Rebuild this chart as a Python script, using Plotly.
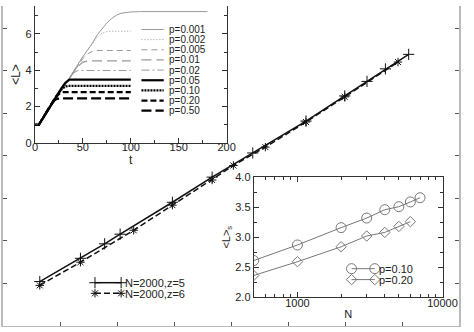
import plotly.graph_objects as go

# ---- main panel: <L> against system parameter (two lattice settings) ----
main_x_z5 = [0.645, 1.359, 1.783, 2.055, 2.972, 3.669, 4.382, 5.316, 5.996, 6.386, 6.709, 7.117]
main_y_z5 = [1.045, 1.591, 1.932, 2.159, 2.909, 3.500, 4.068, 4.818, 5.409, 5.750, 6.045, 6.386]
main_x_z6 = [0.645, 1.359, 2.293, 2.972, 3.669, 4.042, 4.603, 5.316, 5.996, 6.930]
main_y_z6 = [0.955, 1.500, 2.250, 2.841, 3.432, 3.773, 4.205, 4.795, 5.386, 6.205]
main_names = ["N=2000,z=5", "N=2000,z=6"]

# ---- top-left inset: <L>(t) for several p ----
t_p0001 = [0, 4, 8, 12, 16, 20, 30, 40, 50, 60, 65, 70, 75, 80, 85, 90, 100, 110, 180]
L_p0001 = [1, 1, 1.3, 1.62, 1.95, 2.28, 3.1, 3.92, 4.75, 5.5, 5.95, 6.3, 6.6, 6.85, 7.03, 7.14, 7.21, 7.23, 7.23]
t_p0002 = [0, 4, 8, 12, 16, 20, 30, 40, 50, 60, 65, 70, 75, 80, 100]
L_p0002 = [1, 1, 1.3, 1.62, 1.95, 2.28, 3.1, 3.92, 4.75, 5.45, 5.82, 6.05, 6.13, 6.15, 6.15]
t_p0005 = [0, 4, 8, 12, 16, 20, 30, 40, 50, 55, 60, 64, 100]
L_p0005 = [1, 1, 1.3, 1.62, 1.95, 2.28, 3.1, 3.92, 4.65, 4.9, 5.05, 5.09, 5.09]
t_p001 = [0, 4, 8, 12, 16, 20, 30, 40, 45, 50, 55, 100]
L_p001 = [1, 1, 1.3, 1.62, 1.95, 2.28, 3.1, 3.88, 4.22, 4.45, 4.52, 4.52]
t_p002 = [0, 4, 8, 12, 16, 20, 30, 35, 40, 45, 100]
L_p002 = [1, 1, 1.3, 1.63, 1.97, 2.3, 3.12, 3.5, 3.85, 3.99, 3.99]
t_p005 = [0, 4, 8, 12, 16, 20, 25, 28, 32, 36, 100]
L_p005 = [1, 1, 1.33, 1.68, 2.02, 2.38, 2.8, 3.05, 3.32, 3.49, 3.49]
t_p010 = [0, 4, 8, 12, 16, 20, 24, 28, 32, 35, 100]
L_p010 = [1, 1, 1.34, 1.7, 2.04, 2.4, 2.72, 2.97, 3.11, 3.14, 3.14]
t_p020 = [0, 4, 8, 12, 16, 20, 24, 27, 30, 100]
L_p020 = [1, 1, 1.35, 1.71, 2.06, 2.4, 2.65, 2.77, 2.8, 2.8]
t_p050 = [0, 4, 8, 12, 16, 20, 23, 26, 100]
L_p050 = [1, 1, 1.36, 1.72, 2.05, 2.33, 2.43, 2.45, 2.45]
p_labels = ["p=0.001", "p=0.002", "p=0.005", "p=0.01", "p=0.02",
            "p=0.05", "p=0.10", "p=0.20", "p=0.50"]

# ---- bottom-right inset: saturation length <L>_s against N ----
N_p010 = [500, 1000, 2000, 3000, 4000, 5000, 6000, 7000]
Ls_p010 = [2.61, 2.87, 3.16, 3.32, 3.46, 3.51, 3.59, 3.66]
N_p020 = [500, 1000, 2000, 3000, 4000, 5000, 6000]
Ls_p020 = [2.36, 2.59, 2.84, 3.02, 3.08, 3.18, 3.26]
ls_names = ["p=0.10", "p=0.20"]

FONT = "Liberation Sans, Arial, sans-serif"
W, H = 474, 332
ML, MR, MT, MB = 2, 1, 0, 1
PW, PH = W - ML - MR, H - MT - MB


def px_x(px):
    return (px - ML) / PW


def px_y(py):
    return (H - MB - py) / PH


fig = go.Figure()

MARK_Z5 = dict(symbol="cross-thin-open", size=8, line=dict(color="#444", width=1))
MARK_Z6 = dict(symbol="asterisk-open", size=7, line=dict(color="#777", width=1))
LINE_Z5 = dict(color="#111", width=1.5)
LINE_Z6 = dict(color="#111", width=1.5, dash="6px,3px")

# main panel curves
fig.add_trace(go.Scatter(x=main_x_z5, y=main_y_z5, mode="lines+markers",
                         line=LINE_Z5, marker=MARK_Z5,
                         xaxis="x", yaxis="y", showlegend=False))
fig.add_trace(go.Scatter(x=main_x_z6, y=main_y_z6, mode="lines+markers",
                         line=LINE_Z6, marker=MARK_Z6,
                         xaxis="x", yaxis="y", showlegend=False))

# inset curves with their styles
inset_series = [
    (t_p0001, L_p0001, dict(color="#9a9a9a", width=1)),
    (t_p0002, L_p0002, dict(color="#9a9a9a", width=1, dash="1px,2px")),
    (t_p0005, L_p0005, dict(color="#9a9a9a", width=1, dash="6px,4px")),
    (t_p001, L_p001, dict(color="#9a9a9a", width=1.3, dash="10px,5px")),
    (t_p002, L_p002, dict(color="#9a9a9a", width=1, dash="8px,3px,2px,3px")),
    (t_p005, L_p005, dict(color="#000", width=2.2)),
    (t_p010, L_p010, dict(color="#000", width=2.2, dash="2px,1px")),
    (t_p020, L_p020, dict(color="#000", width=2.2, dash="6px,3px")),
    (t_p050, L_p050, dict(color="#000", width=2.2, dash="10px,4px")),
]
for tt, LL, ln in inset_series:
    fig.add_trace(go.Scatter(x=tt, y=LL, mode="lines", line=ln,
                             xaxis="x2", yaxis="y2", showlegend=False))

MARK_C = dict(symbol="circle-open", size=10, line=dict(color="#555", width=1))
MARK_D = dict(symbol="diamond-open", size=8, line=dict(color="#555", width=1))
LINE_LS = dict(color="#777", width=1)

# N-dependence
fig.add_trace(go.Scatter(x=N_p010, y=Ls_p010, mode="lines+markers",
                         line=LINE_LS, marker=MARK_C,
                         xaxis="x3", yaxis="y3", showlegend=False))
fig.add_trace(go.Scatter(x=N_p020, y=Ls_p020, mode="lines+markers",
                         line=LINE_LS, marker=MARK_D,
                         xaxis="x3", yaxis="y3", showlegend=False))

# ---- hand-built legends on a pixel-scaled overlay axis ----
annotations = []


def legend_text(x, y, text, size):
    annotations.append(dict(x=x, y=y, xref="x4", yref="y4", text=text,
                            showarrow=False, xanchor="left", yanchor="middle",
                            borderpad=0,
                            font=dict(family=FONT, size=size, color="#222")))


def legend_key(x0, x1, y, line, marker=None):
    fig.add_trace(go.Scatter(x=[x0, x1], y=[y, y],
                             mode="lines+markers" if marker else "lines",
                             line=line, marker=marker, xaxis="x4", yaxis="y4",
                             showlegend=False, cliponaxis=False, hoverinfo="skip"))


# inset legend (nine rows)
row0, step = 24.3, 10.5
for i, (lab, (_, _, ln)) in enumerate(zip(p_labels, inset_series)):
    yy = row0 + i * step
    legend_key(145, 168, yy, ln)
    legend_text(172, yy, lab, 10)

# main legend
for i, (name, ln, mk) in enumerate(zip(main_names, [LINE_Z5, LINE_Z6], [MARK_Z5, MARK_Z6])):
    yy = 286.2 + i * 11
    legend_key(97, 124, yy, ln, mk)
    legend_text(127, yy + 0.5, name, 11)

# N-dependence legend
for i, (name, mk) in enumerate(zip(ls_names, [MARK_C, MARK_D])):
    yy = 271.7 + i * 11.3
    legend_key(362, 386, yy, LINE_LS, mk)
    legend_text(389, yy, name, 11)

tickfont = dict(family=FONT, size=11, color="#222")

fig.update_layout(
    width=W, height=H,
    margin=dict(l=ML, r=MR, t=MT, b=MB),
    paper_bgcolor="white", plot_bgcolor="rgba(0,0,0,0)",
    font=dict(family=FONT, size=11, color="#222"),
    showlegend=False,
    annotations=annotations,
    # main frame
    xaxis=dict(domain=[0, 1], range=[0, 8], dtick=1, showticklabels=False,
               ticks="inside", ticklen=4, tickcolor="#555", showgrid=False,
               zeroline=False, showline=True, linecolor="#bbb", linewidth=1),
    yaxis=dict(domain=[0, 1], range=[0, PH / 44.0], dtick=1, showticklabels=False,
               ticks="inside", ticklen=4, tickcolor="#555", showgrid=False,
               zeroline=False, showline=True, linecolor="#bbb", linewidth=2,
               mirror="ticks"),
    # top-left inset
    xaxis2=dict(domain=[px_x(35), px_x(233)], range=[0, 200], dtick=50,
                anchor="y2", ticks="inside", ticklen=5, tickcolor="#333",
                minor=dict(dtick=25, ticks="inside", ticklen=3, tickcolor="#333"),
                showgrid=False, zeroline=False, showline=True, linecolor="#333",
                tickfont=tickfont, ticklabelstandoff=-6,
                title=dict(text="t", font=dict(family=FONT, size=12), standoff=0)),
    yaxis2=dict(domain=[px_y(141.7), 1], range=[0, 141.7 / 18.8], dtick=2,
                anchor="x2", ticks="inside", ticklen=5, tickcolor="#333",
                minor=dict(dtick=1, ticks="inside", ticklen=3, tickcolor="#333"),
                showgrid=False, zeroline=False, showline=True, linecolor="#333",
                mirror="ticks", tickfont=tickfont,
                title=dict(text="&lt;L&gt;", font=dict(family=FONT, size=12), standoff=2)),
    # bottom-right inset
    xaxis3=dict(domain=[px_x(261), px_x(456)], type="log",
                range=[2.69897, 4.0], tickvals=[1000, 10000],
                ticktext=["1000", "10000"], anchor="y3",
                ticks="inside", ticklen=5, tickcolor="#333",
                minor=dict(tickvals=[600, 700, 800, 900, 2000, 3000, 4000,
                                     5000, 6000, 7000, 8000, 9000],
                           ticks="inside", ticklen=3, tickcolor="#333"),
                showgrid=False, zeroline=False, showline=True, linecolor="#333",
                mirror="ticks", tickfont=tickfont, ticklabelstandoff=-4,
                title=dict(text="N", font=dict(family=FONT, size=11), standoff=2)),
    yaxis3=dict(domain=[px_y(301), px_y(177.3)], range=[2, 4], dtick=0.5,
                tickformat=".1f", anchor="x3",
                ticks="inside", ticklen=5, tickcolor="#333",
                minor=dict(dtick=0.25, ticks="inside", ticklen=3, tickcolor="#333"),
                showgrid=False, zeroline=False, showline=True, linecolor="#333",
                mirror="ticks", tickfont=tickfont,
                title=dict(text="&lt;L&gt;<sub>s</sub>", font=dict(family=FONT, size=11),
                           standoff=2)),
    # pixel-scaled overlay for the legend keys
    xaxis4=dict(overlaying="x", range=[ML, W - MR], visible=False),
    yaxis4=dict(overlaying="y", range=[H - MB, MT], visible=False, anchor="x4"),
)

fig.write_html("out.html")
